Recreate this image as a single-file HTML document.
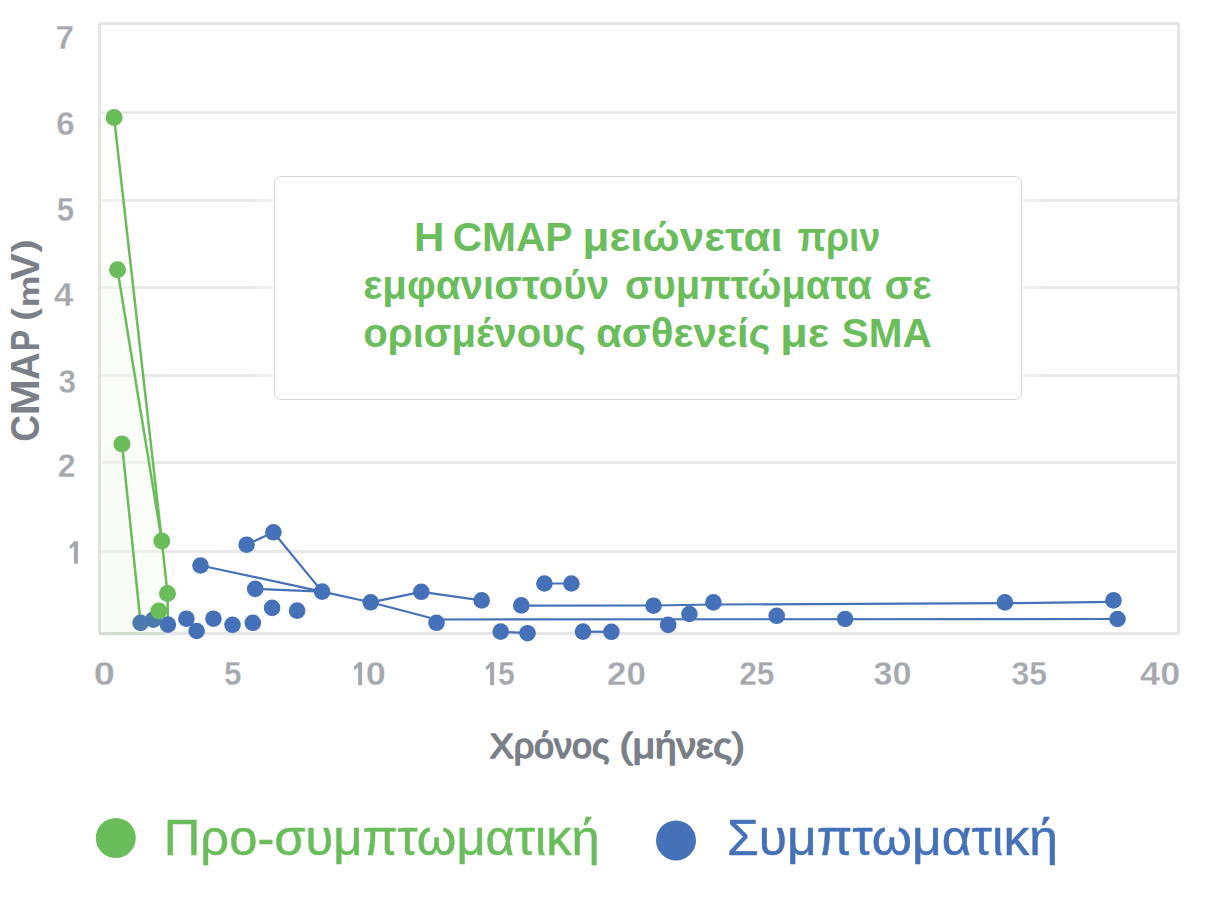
<!DOCTYPE html>
<html lang="el">
<head>
<meta charset="utf-8">
<title>CMAP</title>
<style>
html,body{margin:0;padding:0;background:#fff;}
body{width:1232px;height:906px;overflow:hidden;position:relative;font-family:"Liberation Sans",sans-serif;}
svg{position:absolute;left:0;top:0;display:block;}
svg text{font-family:"Liberation Sans",sans-serif;}
.note{position:absolute;left:274px;top:176px;width:746px;height:222px;border:1px solid #d3d6da;border-radius:7px;background:#fff;box-shadow:0 0 26px 4px rgba(255,255,255,0.8);}
</style>
</head>
<body>
<svg width="1232" height="906" viewBox="0 0 1232 906">
  <!-- gridlines -->
  <g stroke="#e8e8e8" stroke-width="3" fill="none">
    <line x1="100" y1="112.6" x2="1176" y2="112.6" stroke-width="2.7"/>
    <line x1="100" y1="200.5" x2="1177" y2="200.5"/>
    <line x1="100" y1="287.5" x2="1177" y2="287.5"/>
    <line x1="100" y1="375.5" x2="1177" y2="375.5"/>
    <line x1="100" y1="462.5" x2="1176" y2="462.5"/>
    <line x1="100" y1="551.5" x2="1176" y2="551.5"/>
  </g>
  <!-- frame -->
  <rect x="99.5" y="23.5" width="1079" height="610" fill="none" stroke="#e5e5e5" stroke-width="3" rx="1"/>
  <!-- wash gridlines inside area -->
  <polygon points="101.2,117.5 114.1,117.5 161.8,540.9 167.5,593.6 167.7,632 101.2,632" fill="#fff" fill-opacity="0.45"/>
  <!-- green lines -->
  <g stroke="#6abd5b" stroke-width="2.5" fill="none" stroke-linecap="round" stroke-linejoin="round">
    <polyline points="114.1,117.5 161.8,540.9 167.5,593.6 167.9,622"/>
    <polyline points="117.5,269.8 161.8,540.9"/>
    <polyline points="122,444.1 140.6,622.9"/>
  </g>
  <!-- blue lines -->
  <g stroke="#4571b9" stroke-width="2.2" fill="none" stroke-linecap="round" stroke-linejoin="round">
    <polyline points="246.6,544.7 273.4,532.3 322.1,591.6"/>
    <polyline points="255.2,588.9 322.1,591.6"/>
    <polyline points="200.5,565.5 322.1,591.6 370.7,602.3 436.5,619.5 1117.5,619"/>
    <polyline points="370.7,602.3 421.3,591.8 481.7,600.4"/>
    <polyline points="521.3,605.6 653.5,605.5 713.4,604.5 1004.9,603.2 1113.5,601.8"/>
    <polyline points="544.4,583.5 571.4,583.5"/>
    <polyline points="500.7,631.6 527.5,633.2"/>
    <polyline points="583,631.6 611.4,631.8"/>
  </g>
  <!-- blue points -->
  <g fill="#4571b9">
    <circle cx="153.3" cy="619.6" r="8.3" fill="#4a78b2"/>
    <circle cx="140.6" cy="622.9" r="8.3" fill="#4a78b2"/>
    <circle cx="167.9" cy="624.6" r="8.3"/>
    <circle cx="186.4" cy="618.7" r="8.3"/>
    <circle cx="196.6" cy="631" r="8.3"/>
    <circle cx="213.4" cy="618.7" r="8.3"/>
    <circle cx="232.5" cy="624.8" r="8.3"/>
    <circle cx="252.8" cy="622.8" r="8.3"/>
    <circle cx="200.5" cy="565.5" r="8.3"/>
    <circle cx="246.6" cy="544.7" r="8.3"/>
    <circle cx="273.4" cy="532.3" r="8.3"/>
    <circle cx="255.2" cy="588.9" r="8.3"/>
    <circle cx="272.1" cy="607.9" r="8.3"/>
    <circle cx="297.1" cy="610.6" r="8.3"/>
    <circle cx="322.1" cy="591.6" r="8.3"/>
    <circle cx="370.7" cy="602.3" r="8.3"/>
    <circle cx="421.3" cy="591.8" r="8.3"/>
    <circle cx="436.5" cy="622.8" r="8.3"/>
    <circle cx="481.7" cy="600.4" r="8.3"/>
    <circle cx="521.3" cy="605.4" r="8.3"/>
    <circle cx="544.4" cy="583.5" r="8.3"/>
    <circle cx="571.4" cy="583.5" r="8.3"/>
    <circle cx="500.7" cy="631.6" r="8.3"/>
    <circle cx="527.5" cy="633.2" r="8.3"/>
    <circle cx="583" cy="631.6" r="8.3"/>
    <circle cx="611.4" cy="631.8" r="8.3"/>
    <circle cx="653.5" cy="605.7" r="8.3"/>
    <circle cx="668.2" cy="624.9" r="8.3"/>
    <circle cx="689.4" cy="614" r="8.3"/>
    <circle cx="713.4" cy="602.4" r="8.3"/>
    <circle cx="776.7" cy="615.8" r="8.3"/>
    <circle cx="845.1" cy="619" r="8.3"/>
    <circle cx="1004.9" cy="602.4" r="8.3"/>
    <circle cx="1113.5" cy="600.4" r="8.3"/>
    <circle cx="1117.5" cy="619" r="8.3"/>
  </g>
  <!-- green points -->
  <g fill="#6abd5b">
    <circle cx="114.1" cy="117.5" r="8.5"/>
    <circle cx="117.5" cy="269.8" r="8.5"/>
    <circle cx="122" cy="444.1" r="8.5"/>
    <circle cx="161.8" cy="540.9" r="8.5"/>
    <circle cx="167.5" cy="593.6" r="8.5"/>
    <circle cx="158.9" cy="611" r="8.5"/>
  </g>
  <!-- faint green area -->
  <g fill="#6abd5b" fill-opacity="0.017">
    <polygon points="103,117.5 114.1,117.5 161.8,540.9 167.5,593.6 167.7,633 103,633"/>
    <polygon points="103,269.8 117.5,269.8 161.8,540.9 163,633 103,633"/>
    <polygon points="103,444.1 122,444.1 140.6,622.9 140.8,633 103,633"/>
  </g>
  <line x1="99.6" y1="117" x2="99.6" y2="633" stroke="#6abd5b" stroke-opacity="0.05" stroke-width="3"/>
  <line x1="99" y1="633.6" x2="165" y2="633.6" stroke="#6abd5b" stroke-opacity="0.18" stroke-width="2.4"/>
  <!-- tick labels -->
  <g fill="#a5a8ad" font-weight="bold" stroke="#fff" stroke-width="0.3">
    <text transform="translate(55.42,48.900000000000006) scale(0.9954,1)" font-size="33.4" >7</text>
    <text transform="translate(56.24,134.7) scale(0.9910,1)" font-size="33.4" >6</text>
    <text transform="translate(56.79,221.0) scale(0.9327,1)" font-size="33.4" >5</text>
    <text transform="translate(54.12,305.5) scale(1.0397,1)" font-size="33.4" >4</text>
    <text transform="translate(58.53,392.59999999999997) scale(0.9396,1)" font-size="33.4" >3</text>
    <text transform="translate(57.73,477.0) scale(0.9639,1)" font-size="33.4" >2</text>
    <text transform="translate(93.84,685.3) scale(1.1395,1)" font-size="33.4" >0</text>
    <text transform="translate(224.08,685.3) scale(0.9447,1)" font-size="33.4" >5</text>
    <text transform="translate(365.72,685.3) scale(1.0828,1)" font-size="33.4" >0</text>
    <text transform="translate(498.02,685.3) scale(0.9026,1)" font-size="33.4" >5</text>
    <text transform="translate(607.04,685.3) scale(1.0455,1)" font-size="33.4" >20</text>
    <text transform="translate(739.15,685.3) scale(0.9469,1)" font-size="33.4" >25</text>
    <text transform="translate(873.57,685.3) scale(1.0196,1)" font-size="33.4" >30</text>
    <text transform="translate(1011.52,685.3) scale(0.9561,1)" font-size="33.4" >35</text>
    <text transform="translate(1140.10,685.3) scale(1.0801,1)" font-size="33.4" >40</text>
  </g>
  <g fill="#a5a8ad" stroke="none">
    <rect x="73.9" y="541.3" width="4.05" height="22.5" rx="0.4"/>
    <path d="M70.9,546.9 L75.2,542.7" stroke="#a5a8ad" stroke-width="3.1" stroke-linecap="round" fill="none"/>
    <rect x="358.1" y="662.2" width="4.05" height="23.0" rx="0.4"/>
    <path d="M355.1,667.8 L359.4,663.6" stroke="#a5a8ad" stroke-width="3.1" stroke-linecap="round" fill="none"/>
    <rect x="490.1" y="662.2" width="4.05" height="23.0" rx="0.4"/>
    <path d="M487.1,667.8 L491.4,663.6" stroke="#a5a8ad" stroke-width="3.1" stroke-linecap="round" fill="none"/>
  </g>
  <!-- axis titles -->
  <g fill="#7b7f87" transform="translate(39.4,440.2) rotate(-90)" font-size="40.7" font-weight="bold">
    <text transform="translate(-1.52,0.00) scale(0.9132,1.0000)">C</text>
    <text transform="translate(24.77,0.00) scale(1.0753,1.0000)">M</text>
    <text transform="translate(60.15,0.00) scale(0.9412,1.0000)">A</text>
    <text transform="translate(88.97,0.00) scale(0.7815,1.0000)">P</text>
    <text transform="translate(119.75,-3.99) scale(0.9141,0.8277)">(</text>
    <text transform="translate(132.85,0.00) scale(0.8747,0.7299)">m</text>
    <text transform="translate(159.92,0.00) scale(1.0004,1.0000)">V</text>
    <text transform="translate(187.76,-3.99) scale(0.9663,0.8277)">)</text>
  </g>
  <g fill="#7b7f87" stroke="#7b7f87" stroke-width="1.5" stroke-linejoin="round">
    <text transform="translate(489.69,757.9) scale(1.0381,1)" font-size="34.6" >Χρόνος</text>
    <text transform="translate(619.80,757.9) scale(1.1199,1)" font-size="34.6" >(μήνες)</text>
  </g>
  <!-- legend -->
  <circle cx="115.8" cy="838" r="20" fill="#6abd5b"/>
  <g fill="#6abd5b" stroke="#6abd5b" stroke-width="0.5"><text transform="translate(163.74,854.7) scale(1.0266,1)" font-size="49.4" >Προ-συμπτωματική</text></g>
  <circle cx="676" cy="840.4" r="20" fill="#4571b9"/>
  <g fill="#4571b9" stroke="#4571b9" stroke-width="0.5"><text transform="translate(726.88,854.7) scale(1.0437,1)" font-size="49.4" >Συμπτωματική</text></g>
</svg>
<div class="note"></div>
<svg width="1232" height="906" viewBox="0 0 1232 906">
  <g font-weight="bold" fill="#6abd5b">
    <text transform="translate(413.99,251.3) scale(1.0173,1)" font-size="41.3" >Η</text>
    <text transform="translate(452.63,251.3) scale(0.9857,1)" font-size="41.3" >CMAP</text>
    <text transform="translate(582.50,251.3) scale(1.0661,1)" font-size="41.3" >μειώνεται</text>
    <text transform="translate(797.44,251.3) scale(0.9031,1)" font-size="41.3" >πριν</text>
    <text transform="translate(363.18,299.3) scale(0.9762,1)" font-size="41.3" >εμφανιστούν</text>
    <text transform="translate(625.04,299.3) scale(0.9693,1)" font-size="41.3" >συμπτώματα</text>
    <text transform="translate(884.41,299.3) scale(0.9830,1)" font-size="41.3" >σε</text>
    <text transform="translate(363.13,347.3) scale(0.9757,1)" font-size="41.3" >ορισμένους</text>
    <text transform="translate(595.95,347.3) scale(1.0206,1)" font-size="41.3" >ασθενείς</text>
    <text transform="translate(780.34,347.3) scale(1.0896,1)" font-size="41.3" >με</text>
    <text transform="translate(841.84,347.3) scale(0.9788,1)" font-size="41.3" >SMA</text>
  </g>
</svg>
</body>
</html>
